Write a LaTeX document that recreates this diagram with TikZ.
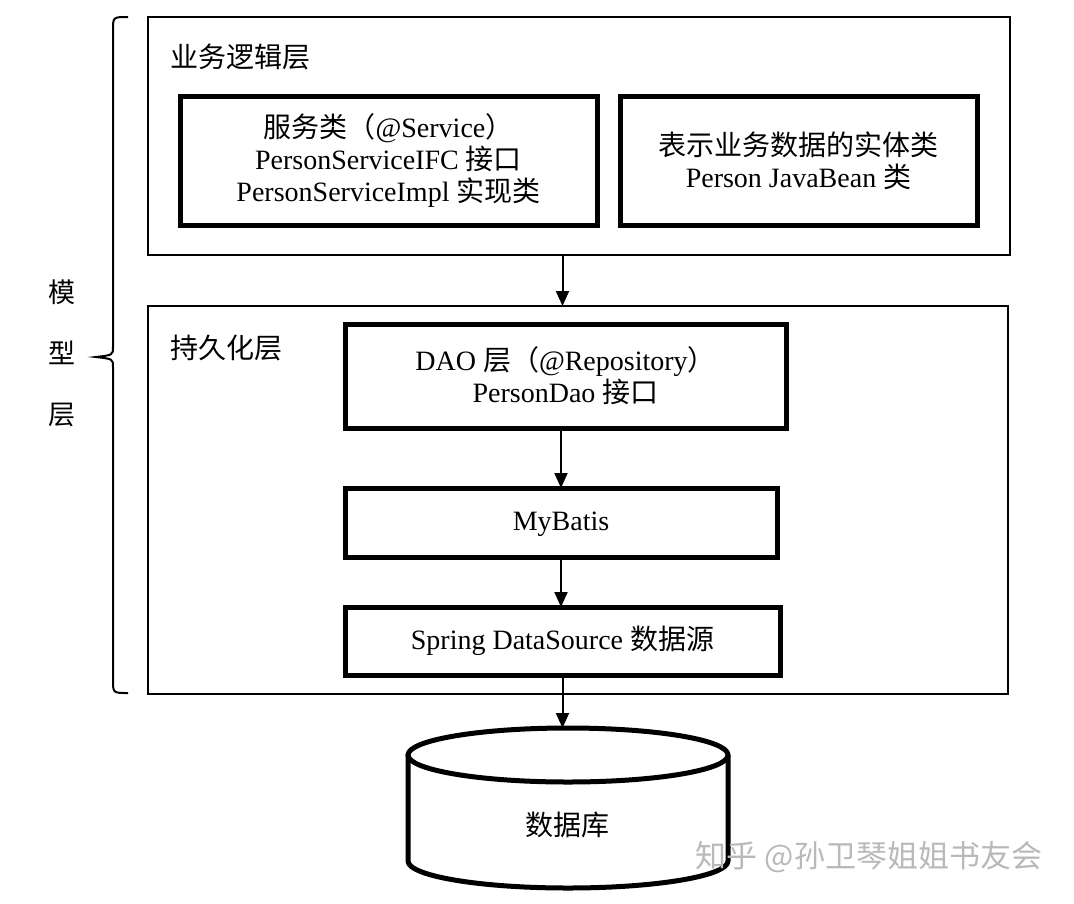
\documentclass[tikz,border=0pt]{standalone}
\usepackage{fontspec}
\setmainfont{Liberation Serif}
\newfontfamily\cjk{Noto Sans CJK SC}
\usetikzlibrary{arrows.meta}
\begin{document}
\begin{tikzpicture}[x=1pt,y=-1pt,
  every node/.style={font=\fontsize{28}{32}\selectfont, inner sep=0pt, outer sep=0pt},
  layerbox/.style={draw, line width=1.6pt, rectangle},
  thickbox/.style={draw, line width=5pt, rectangle, align=center},
  flow/.style={line width=2pt, -{Triangle[length=15pt,width=13pt]}},
  bracepath/.style={line width=2pt},
  cyl/.style={line width=5pt, fill=white},
  wm/.style={font=\fontsize{31}{36}\selectfont\cjk, text=gray!55}]
\useasboundingbox (0,0) rectangle (1074,903);

% layer boxes
\node[layerbox, minimum width=862, minimum height=238] (biz) at (579,136) {};
\node[layerbox, minimum width=860, minimum height=388] (pers) at (578,500) {};
\node[anchor=west] (bizlabel) at (170,57) {\cjk 业务逻辑层};
\node[anchor=west] (perslabel) at (170,348) {\cjk 持久化层};

% inner boxes of business layer
\node[thickbox, minimum width=417, minimum height=129] (svc) at (388.5,160.5)
  {{\cjk 服务类（}@Service{\cjk ）}\\PersonServiceIFC {\cjk 接口}\\PersonServiceImpl {\cjk 实现类}};
\node[thickbox, minimum width=357, minimum height=129] (bean) at (798.5,160.5)
  {{\cjk 表示业务数据的实体类}\\Person JavaBean {\cjk 类}};

% inner boxes of persistence layer
\node[thickbox, minimum width=441, minimum height=104] (dao) at (565.5,376)
  {DAO {\cjk 层（}@Repository{\cjk ）}\\PersonDao {\cjk 接口}};
\node[thickbox, minimum width=432, minimum height=69] (mb) at (561,522.5) {};
\node (mblabel) at (561,524) {MyBatis};
\node[thickbox, minimum width=435, minimum height=68] (ds) at (562.5,641) {};
\node (dslabel) at (562.5,641) {Spring DataSource {\cjk 数据源}};

% database cylinder
\draw[cyl] (408,755) -- (408,861) arc[start angle=180, end angle=360, x radius=160pt, y radius=27pt] -- (728,755);
\draw[cyl] (568,755) ellipse[x radius=160pt, y radius=27pt];
\node[minimum width=320, minimum height=160] (db) at (568,808) {};
\node (dblabel) at (567,825) {\cjk 数据库};

% connectors
\draw[flow] (biz.south -| ds) -- (pers.north -| ds);
\draw[flow] (dao.south -| mb) -- (mb.north);
\draw[flow] (mb.south) -- (mb.south |- ds.north);
\draw[flow] (ds.south) -- (ds.south |- db.north);

% brace
\draw[bracepath] (128,17) .. controls (113,17) .. (113,30) -- (113,347)
  .. controls (113,355) .. (96,357) .. controls (113,359) .. (113,367)
  -- (113,680) .. controls (113,693) .. (128,693);
\node[align=center, font=\fontsize{27}{61}\selectfont\cjk] (model) at (62,353) {模\\型\\层};

% watermark
\node[wm] (mark) at (869,857) {知乎 @孙卫琴姐姐书友会};
\end{tikzpicture}
\end{document}
